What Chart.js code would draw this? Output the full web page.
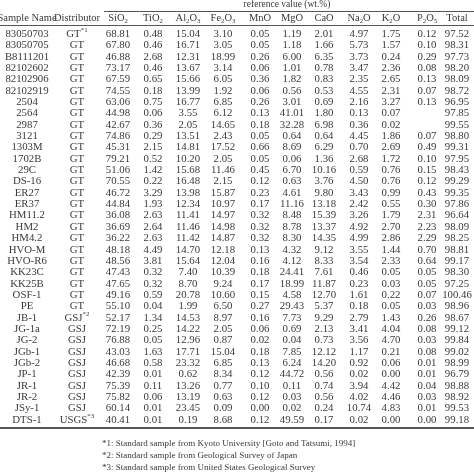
<!DOCTYPE html>
<html>
<head>
<meta charset="utf-8">
<script src="https://cdn.jsdelivr.net/npm/chart.js@4/dist/chart.umd.min.js"></script>
<style>body{margin:0;background:#fff}</style>
</head>
<body>
<canvas id="tbl" width="474" height="476"></canvas>
<script>
// table content
const samples = ['83050703','83050705','B8111201','82102602','82102906','82102919','2504','2564','2987','3121','1303M','1702B','29C','DS-16','ER27','ER37','HM11.2','HM2','HM4.2','HVO-M','HVO-R6','KK23C','KK25B','OSF-1','PE','JB-1','JG-1a','JG-2','JGb-1','JGb-2','JP-1','JR-1','JR-2','JSy-1','DTS-1'];
const distributors = ['GT*1','GT','GT','GT','GT','GT','GT','GT','GT','GT','GT','GT','GT','GT','GT','GT','GT','GT','GT','GT','GT','GT','GT','GT','GT','GSJ*2','GSJ','GSJ','GSJ','GSJ','GSJ','GSJ','GSJ','GSJ','USGS*3'];
const oxides = ['SiO_2','TiO_2','Al_2O_3','Fe_2O_3','MnO','MgO','CaO','Na_2O','K_2O','P_2O_5','Total'];
const SiO2  = ['68.81','67.80','46.88','73.17','67.59','74.55','63.06','44.98','42.67','74.86','45.31','79.21','51.06','70.55','46.72','44.84','36.08','36.69','36.22','48.18','48.56','47.43','47.65','49.16','55.10','52.17','72.19','76.88','43.03','46.68','42.39','75.39','75.82','60.14','40.41'];
const TiO2  = ['0.48','0.46','2.68','0.46','0.65','0.18','0.75','0.06','0.36','0.29','2.15','0.52','1.42','0.22','3.29','1.93','2.63','2.64','2.63','4.49','3.81','0.32','0.32','0.59','0.04','1.34','0.25','0.05','1.63','0.58','0.01','0.11','0.06','0.01','0.01'];
const Al2O3 = ['15.04','16.71','12.31','13.67','15.66','13.99','16.77','3.55','2.05','13.51','14.81','10.20','15.68','16.48','13.98','12.34','11.41','11.46','11.42','14.70','15.64','7.40','8.70','20.78','1.99','14.53','14.22','12.96','17.71','23.32','0.62','13.26','13.19','23.45','0.19'];
const Fe2O3 = ['3.10','3.05','18.99','3.14','6.05','1.92','6.85','6.12','14.65','2.43','17.52','2.05','11.46','2.15','15.87','10.97','14.97','14.98','14.87','12.18','12.04','10.39','9.24','10.60','6.50','8.97','2.05','0.87','15.04','6.85','8.34','0.77','0.63','0.09','8.68'];
const MnO   = ['0.05','0.05','0.26','0.06','0.36','0.06','0.26','0.13','0.18','0.05','0.66','0.05','0.45','0.12','0.23','0.17','0.32','0.32','0.32','0.13','0.16','0.18','0.17','0.15','0.27','0.16','0.06','0.02','0.18','0.13','0.12','0.10','0.12','0.00','0.12'];
const MgO   = ['1.19','1.18','6.00','1.01','1.82','0.56','3.01','41.01','32.28','0.64','8.69','0.06','6.70','0.63','4.61','11.16','8.48','8.78','8.30','4.32','4.12','24.41','18.99','4.58','29.43','7.73','0.69','0.04','7.85','6.24','44.72','0.11','0.03','0.02','49.59'];
const CaO   = ['2.01','1.66','6.35','0.78','0.83','0.53','0.69','1.80','6.98','0.64','6.29','1.36','10.16','3.76','9.80','13.18','15.39','13.37','14.35','9.12','8.33','7.61','11.87','12.70','5.37','9.29','2.13','0.73','12.12','14.20','0.56','0.74','0.56','0.24','0.17'];
const Na2O  = ['4.97','5.73','3.73','3.47','2.35','4.55','2.16','0.13','0.36','4.45','0.70','2.68','0.59','4.50','3.43','2.42','3.26','4.92','4.99','3.55','3.54','0.46','0.23','1.61','0.18','2.79','3.41','3.56','1.17','0.92','0.02','3.94','4.02','10.74','0.02'];
const K2O   = ['1.75','1.57','0.24','2.36','2.65','2.31','3.27','0.07','0.02','1.86','2.69','1.72','0.76','0.76','0.99','0.55','1.79','2.70','2.86','1.44','2.33','0.05','0.03','0.22','0.05','1.43','4.04','4.70','0.21','0.06','0.00','4.42','4.46','4.83','0.00'];
const P2O5  = ['0.12','0.10','0.29','0.08','0.13','0.07','0.13','','','0.07','0.49','0.10','0.15','0.12','0.43','0.30','2.31','2.23','2.29','0.70','0.64','0.05','0.05','0.07','0.03','0.26','0.08','0.03','0.08','0.01','0.01','0.04','0.03','0.01','0.00'];
const Total = ['97.52','98.31','97.73','98.20','98.09','98.72','96.95','97.85','99.55','98.80','99.31','97.95','98.43','99.29','99.35','97.86','96.64','98.09','98.25','98.81','99.17','98.30','97.25','100.46','98.96','98.67','99.12','99.84','99.02','98.99','96.79','98.88','98.92','99.53','99.18'];
const footnotes = ['*1: Standard sample from Kyoto University [Goto and Tatsumi, 1994]','*2: Standard sample from Geological Survey of Japan','*3: Standard sample from United States Geological Survey'];

const columns = [samples, distributors, SiO2, TiO2, Al2O3, Fe2O3, MnO, MgO, CaO, Na2O, K2O, P2O5, Total];
const headers = ['Sample Name', 'Distributor'].concat(oxides);
const colX = [27, 77, 118, 153, 188, 223, 260, 292, 324, 359, 391, 427, 457];

const FONT = '"Liberation Serif", "DejaVu Serif", serif';
const INK = '#3a3a3a';

// draw "Al_2O_3" with subscripts, or "GT*1" with superscript
function richText(c, s, x, y, size) {
  let parts = [];
  let m = s.match(/^(.*?)(\*\d)$/);
  if (m) {
    parts = [[m[1], 0], [m[2], -1]];
  } else {
    s.split('_').forEach((p, i) => {
      if (i === 0) parts.push([p, 0]);
      else { parts.push([p[0], 1]); if (p.length > 1) parts.push([p.slice(1), 0]); }
    });
  }
  const small = size * 0.65;
  let w = 0;
  parts.forEach(p => { c.font = (p[1] ? small : size) + 'px ' + FONT; w += c.measureText(p[0]).width; });
  let cx = x - w / 2;
  c.textAlign = 'left';
  parts.forEach(p => {
    c.font = (p[1] ? small : size) + 'px ' + FONT;
    c.fillText(p[0], cx, y + (p[1] === 1 ? 3 : p[1] === -1 ? -4 : 0));
    cx += c.measureText(p[0]).width;
  });
}

const tablePlugin = {
  id: 'tableText',
  afterDatasetsDraw(chart) {
    const c = chart.ctx, xs = chart.scales.x, ys = chart.scales.y;
    c.save();
    c.fillStyle = INK;
    c.textBaseline = 'middle';
    columns.forEach((col, j) => {
      col.forEach((v, i) => {
        if (v) richText(c, v, xs.getPixelForValue(colX[j]), ys.getPixelForValue(i), 10.8);
      });
    });
    headers.forEach((h, j) => richText(c, h, xs.getPixelForValue(colX[j]), ys.getPixelForValue(-1.4), 10.5));
    c.textAlign = 'center';
    c.font = '9.5px ' + FONT;
    c.fillText('reference value (wt.%)', 287, ys.getPixelForValue(-2.6));
    // rules
    c.strokeStyle = '#555';
    c.lineWidth = 1.2;
    const yl = v => Math.round(ys.getPixelForValue(v)) + 0.5;
    c.beginPath();
    c.moveTo(104, yl(-2.05)); c.lineTo(474, yl(-2.05));
    c.moveTo(0, yl(-0.75)); c.lineTo(474, yl(-0.75));
    c.stroke();
    c.lineWidth = 2;
    c.beginPath();
    c.moveTo(0, ys.getPixelForValue(samples.length - 0.3)); c.lineTo(474, ys.getPixelForValue(samples.length - 0.3));
    c.stroke();
    c.textAlign = 'left';
    c.font = '9px ' + FONT;
    footnotes.forEach((f, k) => c.fillText(f, 102, ys.getPixelForValue(samples.length + 1.1 + k * 1.05)));
    c.restore();
  }
};

const pts = [];
columns.forEach((col, j) => col.forEach((v, i) => pts.push({x: colX[j], y: i})));

new Chart(document.getElementById('tbl'), {
  type: 'scatter',
  data: { datasets: [{ data: pts, pointRadius: 0, backgroundColor: 'transparent' }] },
  options: {
    responsive: false,
    animation: false,
    layout: { padding: { top: 34, bottom: 56, left: 0, right: 0 } },
    plugins: { legend: { display: false }, tooltip: { enabled: false } },
    scales: {
      x: { type: 'linear', min: 0, max: 474, display: false },
      y: { type: 'linear', min: 0, max: samples.length - 1, reverse: true, display: false }
    }
  },
  plugins: [tablePlugin]
});
</script>
</body>
</html>
